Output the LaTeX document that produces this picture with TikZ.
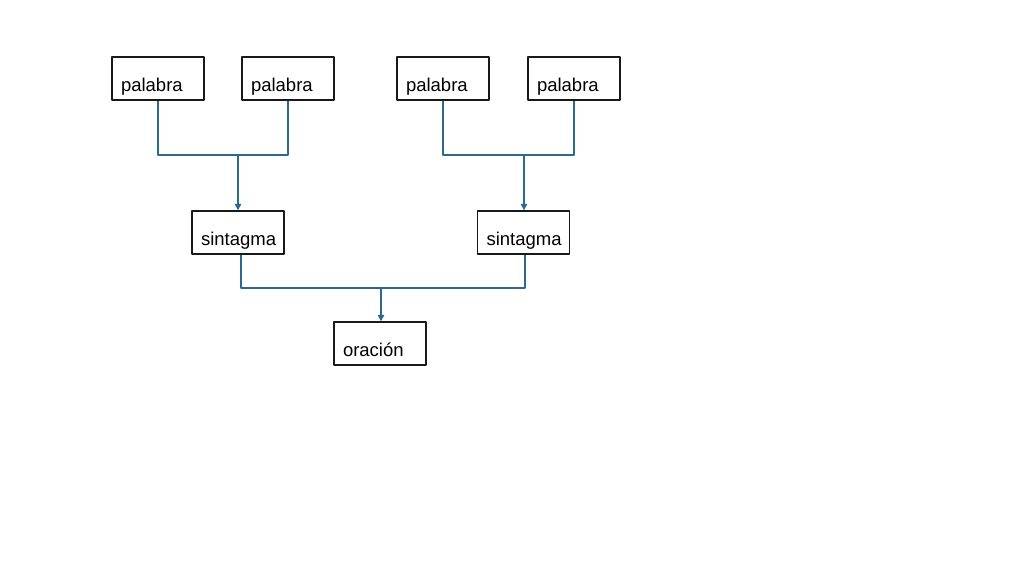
\documentclass[tikz,border=0pt]{standalone}
\usepackage{fontspec}
\setmainfont{Liberation Sans}
\usepackage{xcolor}
\usetikzlibrary{arrows.meta, positioning, calc}
\definecolor{linkblue}{HTML}{2B6A8C}

\begin{document}
\begin{tikzpicture}[x=1pt, y=-1pt, line join=round,
    wbox/.style={draw=black!90, line width=1.4pt, align=left, text width=74pt,
      inner xsep=9pt, inner ysep=0pt, text height=34pt, text depth=9pt,
      font=\fontsize{18.5}{20}\selectfont},
    link/.style={draw=linkblue, line width=1.4pt},
    linkarrow/.style={link, -{Triangle[length=6.5pt, width=6.5pt]}}]
    \fill[white] (0,0) rectangle (1024,576);
    \useasboundingbox (0,0) rectangle (1024,576);
    % Palabras
    \node[wbox] (P1) at (158,78.5) {palabra};
    \node[wbox] (P2) at (288,78.5) {palabra};
    \node[wbox] (P3) at (443,78.5) {palabra};
    \node[wbox] (P4) at (574,78.5) {palabra};
    % Sintagmas
    \node[wbox] (S1) at (238,232.5) {sintagma};
    \node[wbox] (S2) at (523.5,232.5) {sintagma};
    % Oracion
    \node[wbox] (O) at (380,343.5) {oración};
    % Verbindungen
    \coordinate (J1) at (238,155);
    \coordinate (J2) at (524,155);
    \coordinate (J3) at (381,288);
    \draw[link] (P1.south) |- (J1) -| (P2.south);
    \draw[linkarrow] (J1) -- (J1 |- S1.north);
    \draw[link] (P3.south) |- (J2) -| (P4.south);
    \draw[linkarrow] (J2) -- (J2 |- S2.north);
    \draw[link] ([xshift=3pt]S1.south) |- (J3) -| ([xshift=1.5pt]S2.south);
    \draw[linkarrow] (J3) -- (J3 |- O.north);
  \end{tikzpicture}
\end{document}
